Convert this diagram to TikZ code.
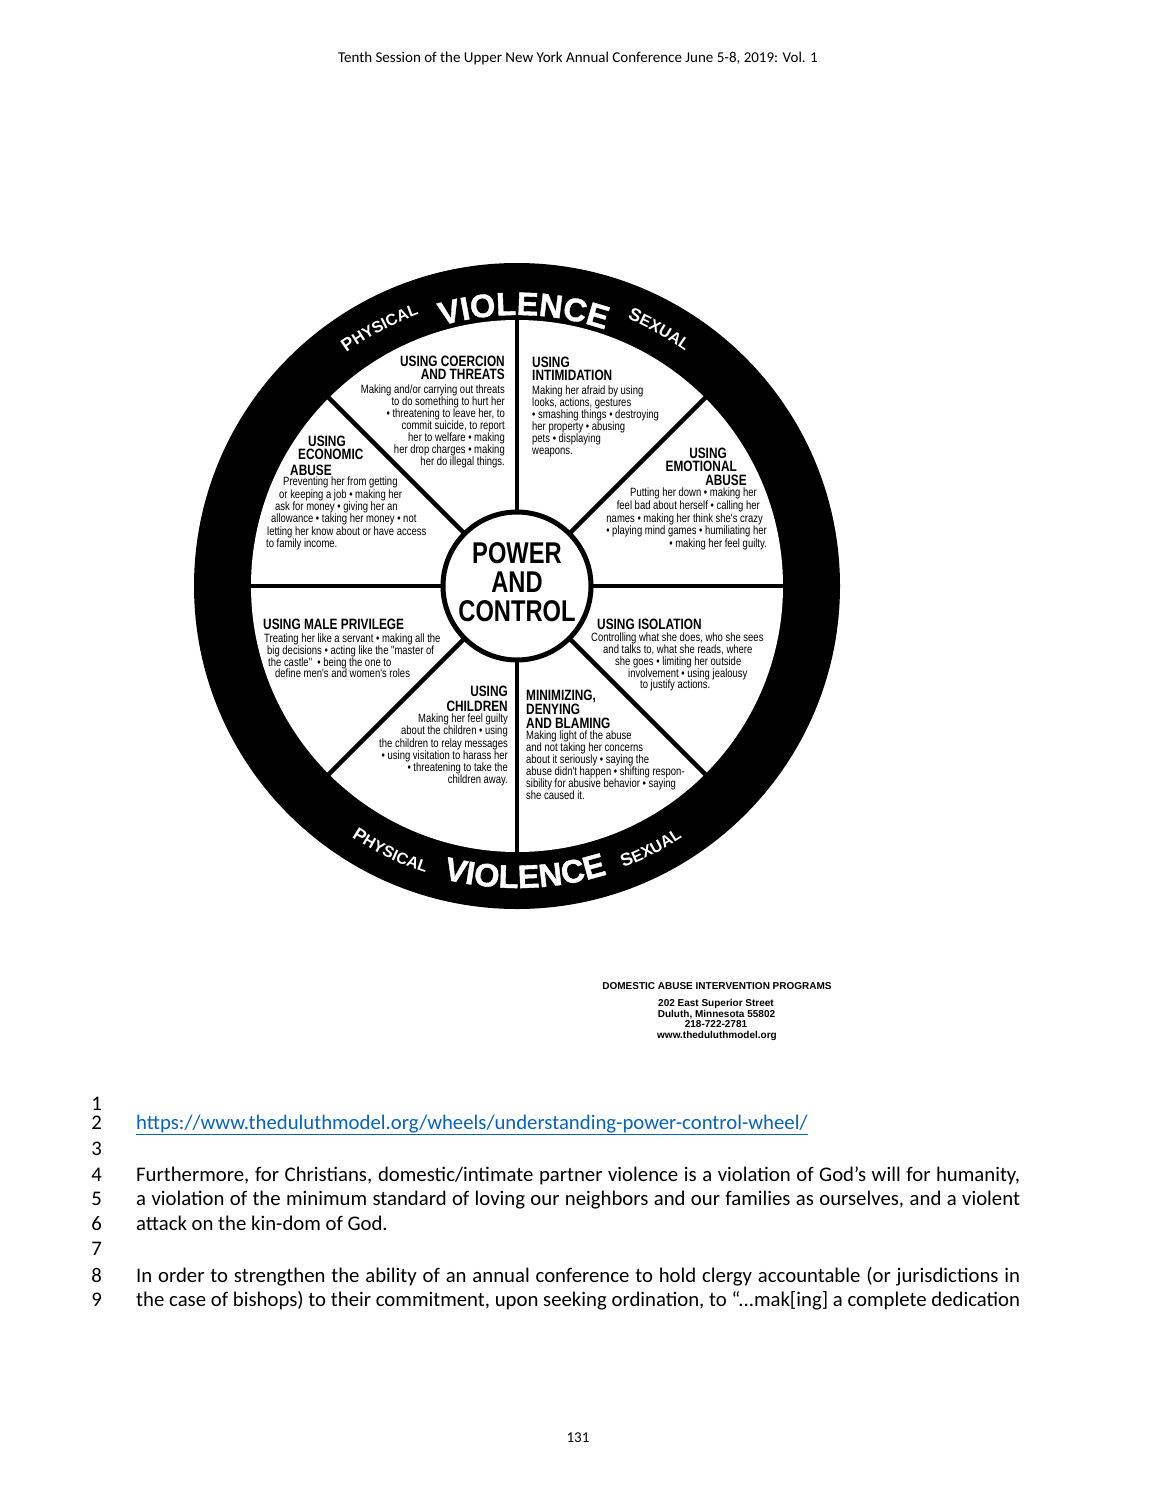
\documentclass[tikz,border=0pt]{standalone}
\usepackage{fontspec}
\setmainfont{Carlito}
\newfontfamily\cond[FakeStretch=0.79]{Liberation Sans}
\newfontfamily\arialf{Liberation Sans}
\newfontfamily\violf[FakeBold=1.2]{Liberation Sans}
\usetikzlibrary{decorations.text}
\definecolor{linkblue}{HTML}{0563C1}
\newcommand{\hdg}[1]{{\bfseries\fontsize{15}{12}\selectfont #1}}
\newcommand{\nolsl}{\lineskiplimit=-50pt\relax}
\newcommand{\secfont}[1]{\cond\fontsize{12}{#1}\selectfont\nolsl}
\newcommand{\ringbig}{\arialf\bfseries\fontsize{18}{18}\selectfont}
\newcommand{\ringsmall}{\arialf\bfseries\fontsize{16}{16}\selectfont}
\begin{document}
\begin{tikzpicture}[x=1pt,y=1pt,
  sect/.style={inner sep=0pt, font=\secfont{12}},
  bodyt/.style={inner sep=0pt, font=\fontsize{20.75}{24.6}\selectfont, anchor=base west},
  lnum/.style={inner sep=0pt, font=\fontsize{20.75}{24.6}\selectfont, anchor=base east},
  addr/.style={inner sep=0pt, font=\arialf\bfseries\fontsize{10}{10}\selectfont, anchor=base},
  ringtext/.style={decorate, decoration={text along path, text align=center, text color=white, text={#1}}},
]
\useasboundingbox (0,0) rectangle (1156,-1496);
\fill[white] (0,0) rectangle (1156,-1496);

\node[inner sep=0pt, anchor=base, font=\fontsize{15}{15}\selectfont] (hdr) at (578,-62.5)
  {Tenth Session of the Upper New York Annual Conference June 5-8, 2019: Vol. 1};

\begin{scope}[shift={(517,-586)}]
  \fill[black] (0,0) circle[radius=323pt];
  \fill[white] (0,0) circle[radius=266pt];
  \foreach \a in {0,45,...,315} \draw[line width=4.5pt] (0,0) -- (\a:268pt);
  \draw[line width=5pt, fill=white] (0,0) circle[radius=74pt];
  \node[inner sep=0pt, align=center, font=\cond\bfseries\fontsize{30}{29}\selectfont] (pc) at (0,4)
    {POWER\\AND\\CONTROL};
  % ring texts, top
  \path[ringtext={|\violf\bfseries\fontsize{32.5}{33}\selectfont|VIOLENCE}]
    (128.6:271pt) arc[start angle=128.6, end angle=48.6, radius=271pt];
  \path[ringtext={|\ringbig|P|\ringsmall|HYSICAL}]
    (148:289pt) arc[start angle=148, end angle=88, radius=289pt];
  \path[ringtext={|\ringbig|S|\ringsmall|EXUAL}]
    (91:289pt) arc[start angle=91, end angle=31, radius=289pt];
  % ring texts, bottom
  \path[ringtext={|\violf\bfseries\fontsize{32.5}{33}\selectfont|VIOLENCE}]
    (231.6:302pt) arc[start angle=231.6, end angle=311.6, radius=302pt];
  \path[ringtext={|\ringbig|P|\ringsmall|HYSICAL}]
    (214.5:301pt) arc[start angle=214.5, end angle=274.5, radius=301pt];
  \path[ringtext={|\ringbig|S|\ringsmall|EXUAL}]
    (267:301pt) arc[start angle=267, end angle=327, radius=301pt];
\end{scope}

% sectors
\node[sect, align=right, anchor=north east] (coer) at (505,-355.4) {%
\hdg{USING COERCION}\\[1pt]
\hdg{AND THREATS}\\[2.7pt]
Making and/or carrying out threats\\
to do something to hurt her\\
• threatening to leave her, to\\
commit suicide, to report\\
her to welfare • making\\
her drop charges • making\\
her do illegal things.};

\node[sect, align=left, anchor=north west] (intim) at (532,-356.4) {%
\hdg{USING}\\[1pt]
\hdg{INTIMIDATION}\\[2.7pt]
Making her afraid by using\\
looks, actions, gestures\\
• smashing things • destroying\\
her property • abusing\\
pets • displaying\\
weapons.};

\node[sect, align=left, anchor=north west, font=\secfont{12.4}] (econ) at (265,-435.4) {%
\hspace*{43pt}\hdg{USING}\\[0.6pt]
\hspace*{33pt}\hdg{ECONOMIC}\\[3.6pt]
\hspace*{25pt}\hdg{ABUSE}\\[-1.8pt]
\hspace*{18pt}Preventing her from getting\\
\hspace*{14pt}or keeping a job • making her\\
\hspace*{10pt}ask for money • giving her an\\
\hspace*{6pt}allowance • taking her money • not\\
\hspace*{2pt}letting her know about or have access\\
\hspace*{1pt}to family income.};

\node[sect, align=right, anchor=north east, font=\secfont{12.7}] (emot) at (767,-447.4) {%
\hdg{USING}\rule{40pt}{0pt}\\[0.3pt]
\hdg{EMOTIONAL}\rule{30pt}{0pt}\\[1.3pt]
\hdg{ABUSE}\rule{20pt}{0pt}\\[-1pt]
Putting her down • making her\rule{10pt}{0pt}\\
feel bad about herself • calling her\rule{7pt}{0pt}\\
names • making her think she's crazy\rule{4pt}{0pt}\\
• playing mind games • humiliating her\\
• making her feel guilty.};

\node[sect, align=left, anchor=north west, font=\secfont{11.7}] (male) at (263,-618.4) {%
\hdg{USING MALE PRIVILEGE}\\[2pt]
\hspace*{1pt}Treating her like a servant • making all the\\
\hspace*{4pt}big decisions • acting like the "master of\\
\hspace*{5pt}the castle"\ \ • being the one to\\
\hspace*{12pt}define men's and women's roles};

\node[sect, align=left, anchor=north west, font=\secfont{11.75}] (isol) at (591,-618.4) {%
\hspace*{6pt}\hdg{USING ISOLATION}\\[1pt]
Controlling what she does, who she sees\\
\hspace*{12pt}and talks to, what she reads, where\\
\hspace*{24pt}she goes • limiting her outside\\
\hspace*{37pt}involvement • using jealousy\\
\hspace*{49pt}to justify actions.};

\node[sect, align=right, anchor=north east, font=\secfont{12.2}] (child) at (508,-685.4) {%
\hdg{USING}\\[2.8pt]
\hdg{CHILDREN}\\[-0.5pt]
Making her feel guilty\\
about the children • using\\
the children to relay messages\\
• using visitation to harass her\\
• threatening to take the\\
children away.};

\node[sect, align=left, anchor=north west] (minim) at (526,-689.4) {%
\hdg{MINIMIZING,}\\[2pt]
\hdg{DENYING}\\[2pt]
\hdg{AND BLAMING}\\[-0.3pt]
Making light of the abuse\\
and not taking her concerns\\
about it seriously • saying the\\
abuse didn't happen • shifting respon-\\
sibility for abusive behavior • saying\\
she caused it.};

% address
\node[addr] (a1) at (717,-989.6) {DOMESTIC ABUSE INTERVENTION PROGRAMS};
\node[addr] (a2) at (716,-1006.6) {202 East Superior Street};
\node[addr] (a3) at (716.5,-1017) {Duluth, Minnesota 55802};
\node[addr] (a4) at (716,-1027.6) {218-722-2781};
\node[addr] (a5) at (717,-1038.5) {www.theduluthmodel.org};

% line numbers
\node[lnum] (n1) at (102,-1110.5) {1};
\node[lnum] (n2) at (102,-1129) {2};
\node[lnum] (n3) at (102,-1155) {3};
\node[lnum] (n4) at (102,-1181) {4};
\node[lnum] (n5) at (102,-1205.5) {5};
\node[lnum] (n6) at (102,-1230) {6};
\node[lnum] (n7) at (102,-1255) {7};
\node[lnum] (n8) at (102,-1282) {8};
\node[lnum] (n9) at (102,-1306) {9};

% body text
\node[bodyt, text=linkblue] (url) at (136,-1129)
  {\underline{https://www.theduluthmodel.org/wheels/understanding-power-control-wheel/}};
\node[bodyt] (l4) at (136,-1181) {\makebox[884pt][s]{Furthermore, for Christians, domestic/intimate partner violence is a violation of God’s will for humanity,}};
\node[bodyt] (l5) at (136,-1205.5) {\makebox[884pt][s]{a violation of the minimum standard of loving our neighbors and our families as ourselves, and a violent}};
\node[bodyt] (l6) at (136,-1230) {attack on the kin-dom of God.};
\node[bodyt] (l8) at (136,-1282) {\makebox[884pt][s]{In order to strengthen the ability of an annual conference to hold clergy accountable (or jurisdictions in}};
\node[bodyt] (l9) at (136,-1306) {\makebox[884pt][s]{the case of bishops) to their commitment, upon seeking ordination, to “...mak[ing] a complete dedication}};

\node[inner sep=0pt, anchor=base, font=\fontsize{15}{15}\selectfont] (pg) at (578,-1442) {131};
\end{tikzpicture}
\end{document}
